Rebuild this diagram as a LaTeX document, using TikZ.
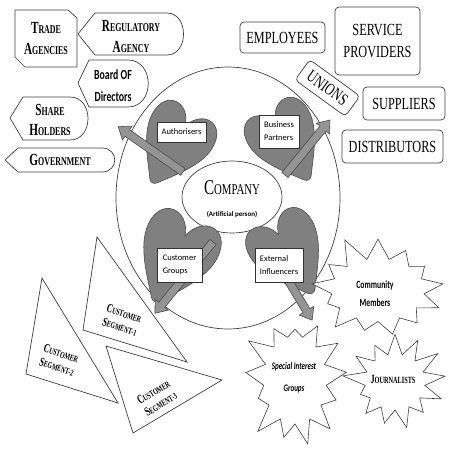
\documentclass[tikz,border=0pt]{standalone}
\usepackage{fontspec}
\setsansfont{Carlito}
\newfontfamily\capsfont[FakeStretch=0.66]{Liberation Serif}
\newfontfamily\narrowfont[FakeStretch=0.72]{Liberation Serif}
\newfontfamily\condfont[FakeStretch=0.7]{Carlito}
\usetikzlibrary{shapes.geometric, shapes.symbols}
\newcommand\bigini[1]{{\fontsize{17}{17}\selectfont #1}}
\newcommand\smallini[1]{{\fontsize{12.5}{12}\selectfont #1}}

\begin{document}
\begin{tikzpicture}[x=1pt, y=-1pt,
  outline/.style={draw=black!75, line width=0.7pt, fill=white},
  capslabel/.style={font=\capsfont\bfseries\fontsize{12}{21}\selectfont, align=center, inner sep=0pt},
  seglabel/.style={font=\capsfont\bfseries\fontsize{9}{14}\selectfont, align=center, inner sep=0pt},
  pubbox/.style={draw=black!75, line width=0.7pt, fill=white, rounded corners=4pt, font=\narrowfont\fontsize{17}{22}\selectfont, align=center, inner sep=0pt},
  rolebox/.style={draw=black!80, line width=0.6pt, fill=white, font=\sffamily\fontsize{8.5}{13}\selectfont, align=left, inner sep=2pt},
  heartfill/.style={draw=black!70, line width=0.6pt, fill=black!50},
  arrowfill/.style={draw=black!70, line width=0.6pt, fill=black!42},
  burst/.style={starburst, draw=black!75, line width=0.6pt, fill=white, inner sep=0pt, starburst points=13, starburst point height=26pt},
  heart/.pic={
    \path[heartfill] (0,-22) .. controls (6,-44) and (32,-44) .. (32,-18)
      .. controls (32,2) and (14,22) .. (4,36)
      .. controls (2,39) and (-2,39) .. (-4,36)
      .. controls (-14,22) and (-32,2) .. (-32,-18)
      .. controls (-32,-44) and (-6,-44) .. (0,-22) -- cycle;
  },
  pics/blockarrow/.style={code={
    \path[arrowfill] (0,-4) -- (#1-11,-4) -- (#1-11,-8.5) -- (#1,0)
      -- (#1-11,8.5) -- (#1-11,4) -- (0,4) -- cycle;
  }}
]
\useasboundingbox (0,0) rectangle (453,453);

% company and its circle
\node[ellipse, draw=black!75, line width=0.7pt, minimum width=224pt, minimum height=262pt] (firm) at (228,198) {};
\node[ellipse, outline, minimum width=100pt, minimum height=72pt] (comp) at (232,197) {};
\node[font=\narrowfont, inner sep=0pt] (comptitle) at (232,188) {{\fontsize{21}{21}\selectfont C}{\fontsize{15}{15}\selectfont OMPANY}};
\node[font=\sffamily\bfseries\fontsize{7}{8}\selectfont, inner sep=0pt] (compsub) at (232,214) {(Artificial person)};

% hearts
\pic[rotate=-30, scale=1.08] (heartA) at (173,147) {heart};
\pic[rotate=30, scale=1.08] (heartB) at (288,144) {heart};
\pic[rotate=-25, scale=1.2] (heartC) at (174,260) {heart};
\pic[rotate=30, scale=1.12] (heartD) at (291,256) {heart};

% arrows out of the hearts
\pic[rotate=145] (arrA) at (183,172) {blockarrow=79};
\pic[rotate=50.7] (arrB) at (285,175) {blockarrow=71};
\pic[rotate=-129.2] (arrC) at (213,242) {blockarrow=92};
\pic[rotate=-59] (arrD) at (273,255) {blockarrow=76};

\node[rolebox, minimum width=49pt, minimum height=20pt] (auth) at (181.5,132) {Authorisers};
\node[rolebox, minimum width=40pt, minimum height=33pt] (bus) at (279,131.5) {Business\\Partners};
\node[rolebox, minimum width=45pt, minimum height=34pt] (cust) at (179.5,265) {Customer\\Groups};
\node[rolebox, minimum width=48pt, minimum height=34pt] (ext) at (279,265) {External\\Influencers};

% top left
\path[outline] (15,10) -- (68,10) -- (77,18) -- (77,67) -- (25,67) -- (15,57) -- cycle;
\node[capslabel] (trade) at (46,38.5) {\bigini{T}RADE\\\bigini{A}GENCIES};
\path[outline] (78,34) -- (95,13) -- (167,13) .. controls (189,13) and (189,55) .. (167,55) -- (95,55) -- cycle;
\node[capslabel] (regul) at (131,36) {\bigini{R}EGULATORY\\\bigini{A}GENCY};
\path[outline] (78,83) -- (89,60) -- (128,60) .. controls (155,60) and (155,107) .. (128,107) -- (89,107) -- cycle;
\node[font=\condfont\bfseries\fontsize{14}{22}\selectfont, align=center, inner sep=0pt] (board) at (113,86) {Board OF\\Directors};
\path[outline] (10,118) -- (23,97) -- (70,97) .. controls (94,97) and (94,140) .. (70,140) -- (23,140) -- cycle;
\node[capslabel, font=\capsfont\bfseries\fontsize{12}{20}\selectfont] (share) at (50,120) {\bigini{S}HARE\\\bigini{H}OLDERS};
\path[outline] (5,160) -- (18,148) -- (102,148) .. controls (119,148) and (119,172) .. (102,172) -- (18,172) -- cycle;
\node[capslabel] (govt) at (60,160) {\bigini{G}OVERNMENT};

% top right
\node[pubbox, minimum width=85pt, minimum height=31pt] (empl) at (282.5,37.5) {EMPLOYEES};
\node[pubbox, minimum width=85pt, minimum height=68pt] (serv) at (377.5,41) {SERVICE\\PROVIDERS};
\node[pubbox, minimum width=62pt, minimum height=25pt, rotate=-36] (union) at (327.5,88) {UNIONS};
\node[pubbox, minimum width=82pt, minimum height=33pt] (suppl) at (404,103.5) {SUPPLIERS};
\node[pubbox, minimum width=101pt, minimum height=33pt] (distr) at (392.5,146.5) {DISTRIBUTORS};

% customer segments
\path[outline] (97,237) -- (83,330) -- (187,362) -- cycle;
\node[seglabel, rotate=-18] (seg1) at (122,320) {\smallini{C}USTOMER\\\smallini{S}EGMENT-1};
\path[outline] (42,278) -- (26,374) -- (118,403) -- cycle;
\node[seglabel, rotate=-18] (seg2) at (59,360) {\smallini{C}USTOMER\\\smallini{S}EGMENT-2};
\path[outline] (106,346) -- (222,380) -- (133,433) -- cycle;
\node[seglabel, rotate=31] (seg3) at (157,398) {\smallini{C}USTOMER\\\smallini{S}EGMENT-3};

% outside voices
\node[burst, minimum width=145pt, minimum height=115pt, random starburst=11] (commu) at (378,290) {};
\node[font=\condfont\bfseries\fontsize{11}{18}\selectfont, align=center, inner sep=0pt] (commutext) at (375,294) {Community\\Members};
\node[burst, minimum width=115pt, minimum height=140pt, random starburst=23] (spec) at (295,380) {};
\node[font=\condfont\bfseries\itshape\fontsize{10}{22}\selectfont, align=center, inner sep=0pt] (spectext) at (294,378) {Special Interest\\Groups};
\node[burst, minimum width=108pt, minimum height=104pt, starburst point height=24pt, random starburst=37] (journ) at (395,382) {};
\node[seglabel, font=\capsfont\bfseries\fontsize{9.5}{14}\selectfont] (journtext) at (393,379) {\smallini{J}OURNALISTS};
\end{tikzpicture}
\end{document}
